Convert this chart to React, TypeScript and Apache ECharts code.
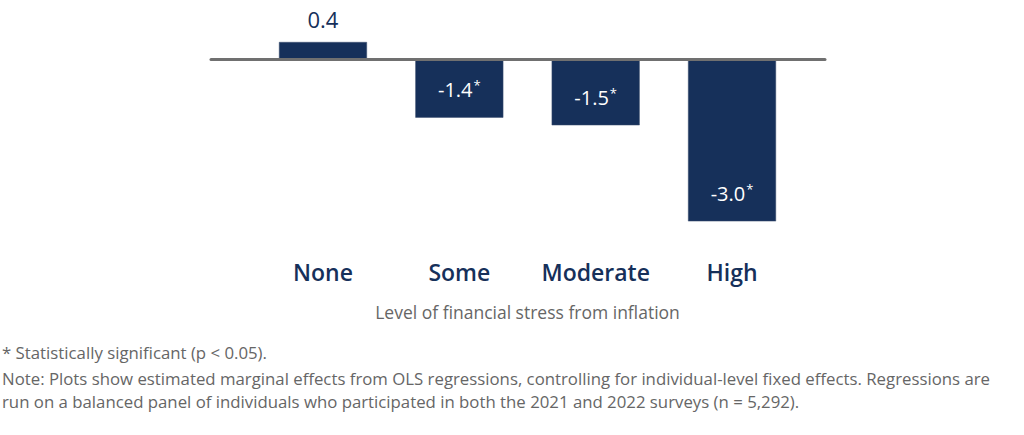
import React, { useEffect, useRef } from 'react';
import * as echarts from 'echarts';

// categories and values
const categories = ['None', 'Some', 'Moderate', 'High'];
// bar lengths as drawn in the picture
const plotted = [0.4, -1.38, -1.56, -3.82];
// printed labels
const labels = ['0.4', '-1.4', '-1.5', '-3.0'];
const significant = [false, true, true, true];

const axisTitle = 'Level of financial stress from inflation';
const sigNote = '* Statistically significant (p < 0.05).';
const noteLines = [
  'Note: Plots show estimated marginal effects from OLS regressions, controlling for individual-level fixed effects. Regressions are',
  'run on a balanced panel of individuals who participated in both the 2021 and 2022 surveys (n = 5,292).',
];

const NAVY = '#16305a';
const GREY = '#666666';
const FONT = '"Open Sans", "Noto Sans", sans-serif';

const App = () => {
  const chartRef = useRef(null);

  useEffect(() => {
    if (!chartRef.current) return;
    document.body.style.margin = '0';

    const chart = echarts.init(chartRef.current, null, { renderer: 'svg' });

    const barData = plotted.map((v, i) => {
      const pos = v >= 0;
      return {
        value: v,
        label: {
          show: true,
          position: pos ? 'top' : 'insideBottom',
          distance: pos ? 12 : 17,
          formatter: significant[i] ? `{a|${labels[i]}}{b|*}` : `{a|${labels[i]}}`,
          rich: {
            a: { fontFamily: FONT, fontSize: pos ? 22 : 20, color: pos ? NAVY : '#ffffff' },
            b: { fontFamily: FONT, fontSize: 13, color: pos ? NAVY : '#ffffff', padding: [0, 0, 9, 1] },
          },
        },
      };
    });

    const option = {
      animation: false,
      grid: [
        { left: 254.8, right: 223.8, top: 16.5, height: 212.5 },
        { left: 211, right: 199, top: 0, height: 59 },
      ],
      xAxis: [
        {
          type: 'category',
          gridIndex: 0,
          data: categories,
          axisLine: { show: false, onZero: false },
          axisTick: { show: false },
          axisLabel: {
            interval: 0,
            margin: 31,
            fontFamily: FONT,
            fontSize: 23,
            fontWeight: 600,
            color: NAVY,
          },
          name: axisTitle,
          nameLocation: 'middle',
          nameGap: 74,
          nameTextStyle: { fontFamily: FONT, fontSize: 17.5, color: GREY },
        },
        {
          type: 'value',
          gridIndex: 1,
          min: 0,
          max: 1,
          z: 5,
          axisLine: { show: true, onZero: false, lineStyle: { color: '#707070', width: 3 } },
          axisTick: { show: false },
          axisLabel: { show: false },
          splitLine: { show: false },
        },
      ],
      yAxis: [
        { type: 'value', gridIndex: 0, min: -4, max: 1, show: false },
        { type: 'value', gridIndex: 1, min: 0, max: 1, show: false },
      ],
      series: [
        {
          type: 'bar',
          xAxisIndex: 0,
          yAxisIndex: 0,
          barWidth: 88,
          data: barData,
          itemStyle: { color: NAVY, borderColor: '#3c4f6e', borderWidth: 0.5 },
        },
      ],
      graphic: [
        {
          type: 'text',
          left: 2,
          top: 344,
          style: { text: sigNote, font: `16.8px ${FONT}`, fill: GREY },
        },
        {
          type: 'text',
          left: 2,
          top: 367,
          style: { text: noteLines.join('\n'), font: `16.8px ${FONT}`, lineHeight: 23, fill: GREY },
        },
      ],
    };

    chart.setOption(option);

    return () => {
      chart.dispose();
    };
  }, []);

  return <div ref={chartRef} style={{ width: 1024, height: 435 }} />;
};

export default App;
